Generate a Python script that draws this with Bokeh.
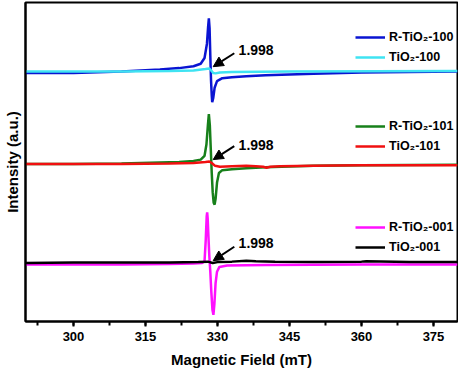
from bokeh.plotting import figure
from bokeh.models import (Range1d, SingleIntervalTicker, FixedTicker, Legend, LegendItem,
                          Arrow, NormalHead)
from bokeh.core.properties import value
from bokeh.embed import file_html
from bokeh.resources import INLINE

FONT = "Liberation Sans"

# ---- data (magnetic field in mT, intensity in arbitrary units, traces offset) ----
r100_x = [290, 300, 310, 318, 322, 325, 326.5, 327.3, 327.8, 328.05, 328.2, 328.35, 328.5,
          328.65, 328.8, 328.9, 329.1, 329.4, 329.9, 331, 333, 336, 340, 350, 360, 370, 380]
r100_y = [259.5, 259.5, 261, 263, 264.5, 266.5, 269, 275, 290, 308, 316.5, 306, 278,
          252, 236, 229, 233, 244, 251, 254, 255, 256, 257, 258.5, 260, 260.5, 261]
t100_x = [290, 310, 320, 325, 327.5, 328.3, 328.7, 329.1, 329.6, 330.5, 333, 345, 380]
t100_y = [261, 261, 261.5, 262, 263.5, 264, 262, 259.5, 259, 260, 260.5, 261, 261.5]

r101_x = [290, 300, 310, 318, 322, 325, 326.5, 327.3, 327.7, 328.0, 328.2, 328.4, 328.6,
          328.8, 329.0, 329.2, 329.4, 329.6, 329.9, 330.3, 331, 333, 336, 340, 350, 360, 380]
r101_y = [164.5, 164.5, 165, 166, 166.5, 167.5, 169, 173, 185, 205, 216.5, 205, 180,
          155, 135, 124, 122, 128, 145, 155, 158, 159, 160, 161, 162.5, 163, 163.5]
t101_x = [290, 310, 320, 325, 327.5, 328.3, 328.8, 329.5, 330.5, 333, 336, 338, 339.5,
          340.2, 341, 343, 350, 360, 370, 380]
t101_y = [164.5, 164.5, 165, 165.5, 166.5, 167, 165.5, 162.5, 161.5, 162, 162.5, 162, 161.5,
          160.5, 161.5, 162, 162.5, 163, 163, 163]

r001_x = [290, 310, 320, 325, 326.8, 327.3, 327.55, 327.75, 327.85, 327.95, 328.1, 328.3,
          328.5, 328.7, 328.95, 329.15, 329.35, 329.6, 329.9, 330.4, 332, 340, 360, 380]
r001_y = [59.5, 59.5, 60, 60.5, 61, 63, 85, 110, 114, 108, 90, 68,
          52, 32, 12, 7, 18, 40, 52, 57, 58.5, 59, 59.5, 59.5]
t001_x = [290, 300, 310, 320, 326, 328, 329, 330, 333, 336, 338, 342, 350, 360, 361, 370, 380]
t001_y = [61, 61.5, 61.5, 61.5, 62, 62.5, 61, 62, 62.5, 63.5, 63, 62.5, 62, 62.5, 63, 62, 62]

labels = ["R-TiO\u2082-100", "TiO\u2082-100", "R-TiO\u2082-101", "TiO\u2082-101",
          "R-TiO\u2082-001", "TiO\u2082-001"]
colors = ["#0A14D2", "#3FE3F2", "#17801A", "#F01010", "#FF10FF", "#000000"]

# g-value annotations
g_text = ["1.998", "1.998", "1.998"]
g_text_x = [334.4, 334.4, 334.4]
g_text_y = [283, 184.5, 82]
arrow_tail_x = [333.5, 333.5, 333.5]
arrow_tail_y = [280, 183, 78]
arrow_tip_x = [329.1, 329.1, 329.1]
arrow_tip_y = [266, 169, 63.5]

x_ticks_interval = 15

p = figure(width=458, height=370, output_backend="svg", toolbar_location=None,
           x_range=Range1d(290, 380), y_range=Range1d(0, 333),
           min_border_left=21, min_border_right=1, min_border_top=2, min_border_bottom=49)
p.background_fill_color = "white"
p.border_fill_color = "white"
p.grid.visible = False
p.outline_line_color = "black"
p.outline_line_width = 2

series = [(r100_x, r100_y), (t100_x, t100_y), (r101_x, r101_y), (t101_x, t101_y),
          (r001_x, r001_y), (t001_x, t001_y)]
rs = []
for (xs, ys), c in zip(series, colors):
    rs.append(p.line(xs, ys, line_color=c, line_width=2.5))

# axes
xa = p.xaxis[0]
xa.ticker = SingleIntervalTicker(interval=x_ticks_interval, num_minor_ticks=2)
xa.axis_label = "Magnetic Field (mT)"
xa.axis_line_width = 2
xa.axis_line_color = "black"
xa.major_tick_line_color = "black"
xa.minor_tick_line_color = "black"
xa.major_tick_line_width = 2
xa.minor_tick_line_width = 2
xa.major_tick_in = 0
xa.major_tick_out = 5
xa.minor_tick_in = 0
xa.minor_tick_out = 4
xa.major_label_text_font = FONT
xa.major_label_text_font_style = "bold"
xa.major_label_text_font_size = "13px"
xa.major_label_text_color = "black"
xa.major_label_standoff = 5
xa.axis_label_text_font = FONT
xa.axis_label_text_font_style = "bold"
xa.axis_label_text_font_size = "15px"
xa.axis_label_text_color = "black"
xa.axis_label_standoff = 7

ya = p.yaxis[0]
ya.ticker = FixedTicker(ticks=[])
ya.axis_label = "Intensity (a.u.)"
ya.axis_line_width = 2
ya.axis_line_color = "black"
ya.major_tick_out = 0
ya.major_tick_in = 0
ya.minor_tick_out = 0
ya.minor_tick_in = 0
ya.major_label_standoff = 0
ya.major_label_text_font_size = "0px"
ya.axis_label_text_font = FONT
ya.axis_label_text_font_style = "bold"
ya.axis_label_text_font_size = "15px"
ya.axis_label_text_color = "black"
ya.axis_label_standoff = 5

# annotations
p.text(x=g_text_x, y=g_text_y, text=g_text, text_font=value(FONT), text_font_style="bold",
       text_font_size="14px", text_align="left", text_baseline="middle", text_color="black")
for i in range(3):
    p.add_layout(Arrow(x_start=arrow_tail_x[i], y_start=arrow_tail_y[i],
                       x_end=arrow_tip_x[i], y_end=arrow_tip_y[i], line_width=2,
                       line_color="black",
                       end=NormalHead(size=10, fill_color="black", line_color="black")))

# legends
legend_locs = [(330, 254), (330, 165), (330, 64)]
for k in range(3):
    items = [LegendItem(label=labels[2 * k], renderers=[rs[2 * k]]),
             LegendItem(label=labels[2 * k + 1], renderers=[rs[2 * k + 1]])]
    lg = Legend(items=items, location=legend_locs[k], orientation="vertical",
                border_line_color=None, background_fill_alpha=0, padding=0, margin=0,
                spacing=0, glyph_width=30, glyph_height=20, label_height=20,
                label_standoff=4, label_text_font=FONT, label_text_font_style="bold",
                label_text_font_size="12.5px", label_text_color="black")
    p.add_layout(lg, "center")

open("out.html", "w").write(file_html(p, INLINE))
